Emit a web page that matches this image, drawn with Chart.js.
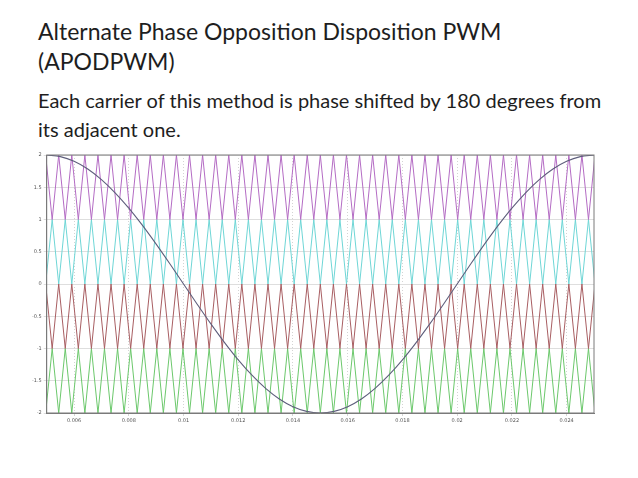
<!DOCTYPE html>
<html>
<head>
<meta charset="utf-8">
<script src="https://cdn.jsdelivr.net/npm/chart.js@4.4.0/dist/chart.umd.min.js"></script>
<style>
  html, body { margin:0; padding:0; background:#fff; }
  body { width:638px; height:478px; position:relative; overflow:hidden; }
  .title { position:absolute; left:38px; top:16px; font-family:Lato, "Open Sans", sans-serif; font-size:23px; line-height:30px; color:#1e1e1e; white-space:nowrap; }
  .body { position:absolute; left:38px; top:86px; font-family:Lato, "Open Sans", sans-serif; font-size:20px; line-height:29px; color:#1e1e1e; white-space:nowrap; }
  #wrap { position:absolute; left:0; top:145px; width:610px; height:290px; }
</style>
</head>
<body>
<div class="title">Alternate Phase Opposition Disposition PWM<br>(APODPWM)</div>
<div class="body">Each carrier of this method is phase shifted by 180 degrees from<br>its adjacent one.</div>
<div id="wrap"><canvas id="c" width="610" height="290"></canvas></div>
<script>
// x tick values and labels
const xTickValues = [0.006, 0.008, 0.010, 0.012, 0.014, 0.016, 0.018, 0.020, 0.022, 0.024];
const xTickLabels = ["0.006", "0.008", "0.01", "0.012", "0.014", "0.016", "0.018", "0.02", "0.022", "0.024"];
const yTickLabels = ["-2", "-1.5", "-1", "-0.5", "0", "0.5", "1", "1.5", "2"];

// reference sine (sampled every 0.5 ms from 5 ms to 25 ms)
const sineTimes = [0.0050,0.0055,0.0060,0.0065,0.0070,0.0075,0.0080,0.0085,0.0090,0.0095,
  0.0100,0.0105,0.0110,0.0115,0.0120,0.0125,0.0130,0.0135,0.0140,0.0145,
  0.0150,0.0155,0.0160,0.0165,0.0170,0.0175,0.0180,0.0185,0.0190,0.0195,
  0.0200,0.0205,0.0210,0.0215,0.0220,0.0225,0.0230,0.0235,0.0240,0.0245,0.0250];
const sineValues = [2.000,1.975,1.902,1.782,1.618,1.414,1.176,0.908,0.618,0.313,
  0.000,-0.313,-0.618,-0.908,-1.176,-1.414,-1.618,-1.782,-1.902,-1.975,
  -2.000,-1.975,-1.902,-1.782,-1.618,-1.414,-1.176,-0.908,-0.618,-0.313,
  0.000,0.313,0.618,0.908,1.176,1.414,1.618,1.782,1.902,1.975,2.000];

// carrier vertex times: "mid" vertices and "touch" vertices (where adjacent carriers meet)
const midTimes = [0.004961,0.005439,0.005917,0.006395,0.006873,0.007351,0.007829,0.008307,0.008785,0.009263,
  0.009741,0.010219,0.010697,0.011175,0.011653,0.012131,0.012609,0.013087,0.013565,0.014043,
  0.014521,0.014999,0.015477,0.015955,0.016433,0.016911,0.017389,0.017867,0.018345,0.018823,
  0.019301,0.019779,0.020257,0.020735,0.021213,0.021691,0.022169,0.022647,0.023125,0.023603,
  0.024081,0.024559,0.025037];
const touchTimes = [0.005200,0.005678,0.006156,0.006634,0.007112,0.007590,0.008068,0.008546,0.009024,0.009502,
  0.009980,0.010458,0.010936,0.011414,0.011892,0.012370,0.012848,0.013326,0.013804,0.014282,
  0.014760,0.015238,0.015716,0.016194,0.016672,0.017150,0.017628,0.018106,0.018584,0.019062,
  0.019540,0.020018,0.020496,0.020974,0.021452,0.021930,0.022408,0.022886,0.023364,0.023842,
  0.024320,0.024798];

// carrier levels: value at mid vertices, value at touch vertices
const carrierNames = ["carrier 1", "carrier 2", "carrier 3", "carrier 4"];
const carrierMidLevel = [2, 0, 0, -2];
const carrierTouchLevel = [1, 1, -1, -1];
const carrierColors = ["#b46cc4", "#6fd6d6", "#a85e62", "#6cc86c"];

function carrierPoints(i) {
  const pts = [];
  for (let k = 0; k < midTimes.length; k++) {
    pts.push({x: midTimes[k], y: carrierMidLevel[i]});
    if (k < touchTimes.length) pts.push({x: touchTimes[k], y: carrierTouchLevel[i]});
  }
  return pts;
}

const datasets = [{
  label: "reference",
  data: sineTimes.map((t, i) => ({x: t, y: sineValues[i]})),
  borderColor: "#5e5e7c",
  borderWidth: 1.1,
  pointRadius: 0,
  cubicInterpolationMode: "monotone",
  order: 0
}];
carrierNames.forEach((n, i) => datasets.push({
  label: n,
  data: carrierPoints(i),
  borderColor: carrierColors[i],
  borderWidth: 1,
  pointRadius: 0,
  tension: 0,
  order: 1 + i
}));

const frame = {
  id: "frame",
  afterDatasetsDraw(chart) {
    const a = chart.chartArea, ctx = chart.ctx;
    ctx.save();
    ctx.strokeStyle = "#7a7a7a";
    ctx.lineWidth = 1;
    ctx.strokeRect(a.left, a.top, a.right - a.left, a.bottom - a.top);
    ctx.restore();
  }
};

new Chart(document.getElementById("c"), {
  type: "line",
  data: { datasets },
  plugins: [frame],
  options: {
    responsive: false,
    animation: false,
    parsing: true,
    layout: { padding: { left: 0, right: 16, top: 10, bottom: 0 } },
    plugins: { legend: { display: false }, tooltip: { enabled: false } },
    scales: {
      x: {
        type: "linear",
        min: 0.005, max: 0.025,
        afterBuildTicks: s => { s.ticks = xTickValues.map(v => ({value: v})); },
        afterFit: s => { s.height = 22; },
        ticks: {
          callback: (v, i) => xTickLabels[i],
          font: { family: "DejaVu Sans", size: 5 },
          color: "#555",
          maxRotation: 0,
          padding: 2
        },
        grid: { color: "#d4d4d4", lineWidth: 1, tickLength: 3, drawTicks: true },
        border: { display: true, color: "#7a7a7a", dash: [1, 2] }
      },
      y: {
        type: "linear",
        min: -2, max: 2,
        afterBuildTicks: s => { s.ticks = yTickLabels.map(v => ({value: parseFloat(v)})); },
        afterFit: s => { s.width = 46.7; },
        ticks: {
          callback: (v, i) => yTickLabels[i],
          font: { family: "DejaVu Sans", size: 5 },
          color: "#555",
          padding: 2
        },
        grid: { color: "#dedede", lineWidth: 1, tickLength: 3 },
        border: { display: true, color: "#7a7a7a" }
      }
    }
  }
});
</script>
</body>
</html>
